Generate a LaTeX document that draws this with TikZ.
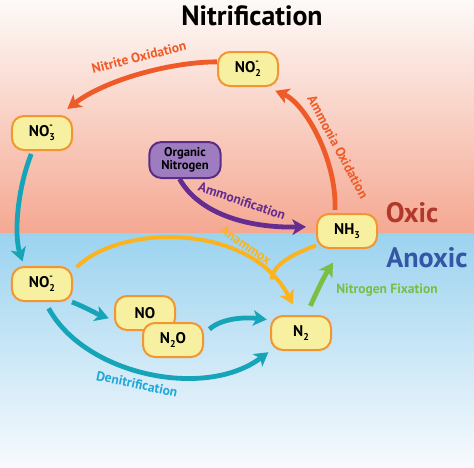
\documentclass[tikz,border=0pt]{standalone}
\usepackage{fontspec}
\setmainfont{PT Sans}
\usepackage{xcolor}
\definecolor{OxicTop}     {RGB}{253, 250, 248}
\definecolor{OxicSalmon}  {RGB}{245, 168, 146}
\definecolor{AnoxicBlue}  {RGB}{155, 211, 239}
\definecolor{AnoxicBottom}{RGB}{248, 250, 253}
\definecolor{PoolFill}    {RGB}{246, 240, 160}
\definecolor{PoolDraw}    {RGB}{241, 150,  48}
\definecolor{OrgFill}     {RGB}{157, 124, 192}
\definecolor{OrgDraw}     {RGB}{ 92,  45, 134}
\definecolor{OxOrange}    {RGB}{238,  90,  40}
\definecolor{AmfPurple}   {RGB}{102,  45, 145}
\definecolor{DenTeal}     {RGB}{ 22, 165, 184}
\definecolor{DenText}     {RGB}{ 34, 167, 214}
\definecolor{AmxYellow}   {RGB}{251, 180,  32}
\definecolor{FixGreen}    {RGB}{122, 190,  67}
\definecolor{OxicRed}     {RGB}{178,  56,  44}
\definecolor{AnoxicNavy}  {RGB}{ 52,  86, 166}
\usetikzlibrary{
  arrows.meta,
  positioning
}
\newcommand{\lowsub}[1]{%
  \raisebox{-0.55ex}{\fontsize{7}{7}\selectfont#1}}
\newcommand{\subsup}[2]{%
  \rlap{\raisebox{1.05ex}{\fontsize{7}{7}\selectfont#2}}\lowsub{#1}}

\begin{document}
\begin{tikzpicture}[
  x=0.25mm, y=-0.25mm,
  pool/.style={
    draw=PoolDraw, fill=PoolFill,
    line width=0.5mm, rounded corners=3mm,
    minimum width=15mm, minimum height=8.5mm,
    inner sep=0pt,
    font=\fontsize{11}{12}\selectfont\bfseries},
  organic/.style={pool,
    draw=OrgDraw, fill=OrgFill,
    minimum width=17.8mm, minimum height=9mm,
    align=center,
    font=\fontsize{9}{9.5}\selectfont\bfseries},
  flow/.style={
    line width=1.2mm,
    -{Stealth[length=3.4mm, width=3.9mm, inset=0.9mm]}},
  proc/.style={
    inner sep=0pt,
    font=\fontsize{9.6}{10}\selectfont\bfseries},
  zone/.style={
    inner sep=0pt,
    font=\fontsize{20}{22}\selectfont\bfseries}
]

\useasboundingbox (0,0) rectangle (474,467);
\shade[top color=OxicTop, bottom color=OxicSalmon]
  (0,0) rectangle (474,233);
\shade[top color=AnoxicBlue, bottom color=AnoxicBottom]
  (0,233) rectangle (474,467);

\node[font=\fontsize{19.8}{21}\selectfont\bfseries]
  (title) at (252,16) {Nitrification};

% nitrogen pools
\node[pool] (ntop) at (248,69) {NO\subsup{2}{-}};
\node[pool] (no3) at (42,133) {NO\subsup{3}{-}};
\node[organic] (orgn) at (185,160) {Organic\\Nitrogen};
\node[pool] (nh3) at (347,231) {NH\lowsub{3}};
\node[pool] (nbot) at (42,284) {NO\subsup{2}{-}};
\node[pool] (nno) at (145,313) {NO};
\node[pool] (nto) at (173,340) {N\lowsub{2}O};
\node[pool] (ntwo) at (301,333) {N\lowsub{2}};

\node[zone, color=OxicRed] (oxic) at (412,213) {Oxic};
\node[zone, color=AnoxicNavy] (anoxic) at (427,258) {Anoxic};

% oxic processes
\draw[flow, OxOrange, shorten >=2.5mm]
  (ntop.167) .. controls (170,62) and (105,80) .. (no3.46);
\draw[flow, OxOrange, shorten <=0.8mm, shorten >=2.5mm]
  (nh3.124) .. controls (337,160) and (305,103) .. (ntop.-45);
\draw[flow, AmfPurple, shorten >=2.5mm]
  (orgn.254) .. controls (200,215) and (250,228) .. (nh3.172);

\node[proc, OxOrange, rotate=14] (lblnitox) at (139,57)
  {Nitrite Oxidation};
\node[proc, OxOrange, rotate=-62] (lblammox) at (338,147)
  {Ammonia Oxidation};
\node[proc, AmfPurple, rotate=-19] (lblamf) at (242,201)
  {Ammonification};

% anoxic processes
\draw[flow, DenTeal, shorten <=0.8mm, shorten >=1.2mm]
  (no3.242) .. controls (17,190) and (14,235) .. (nbot.135);
\draw[flow, DenTeal, shorten >=1.4mm]
  (nbot.-31) .. controls (85,307) and (97,314) .. (nno.193);
\draw[flow, DenTeal, shorten <=1.8mm, shorten >=0.8mm]
  (nto.11) .. controls (222,318) and (245,317) .. (ntwo.157);
\draw[flow, DenTeal, shorten <=1.8mm, shorten >=0.5mm]
  (nbot.-80) .. controls (85,375) and (205,400) .. (ntwo.south west);

\draw[flow, AmxYellow, line width=1mm, shorten <=1.3mm, shorten >=3mm]
  (nbot.23) .. controls (120,224) and (250,222) ..
  coordinate[pos=0.85] (amxjoin) (ntwo.98);
\draw[AmxYellow, line width=1mm]
  (nh3.205) .. controls (290,255) and (272,266) .. (amxjoin);

\draw[flow, FixGreen, shorten <=2.5mm, shorten >=4mm]
  (ntwo.74) .. controls (314,298) and (322,280) .. (nh3.253);

\node[proc, AmxYellow, rotate=-34] (lblanx) at (246,245)
  {Anammox};
\node[proc, DenText, rotate=-12] (lbldenit) at (137,384)
  {Denitrification};
\node[proc, FixGreen] (lblfix) at (387,290)
  {Nitrogen Fixation};

\end{tikzpicture}
\end{document}
